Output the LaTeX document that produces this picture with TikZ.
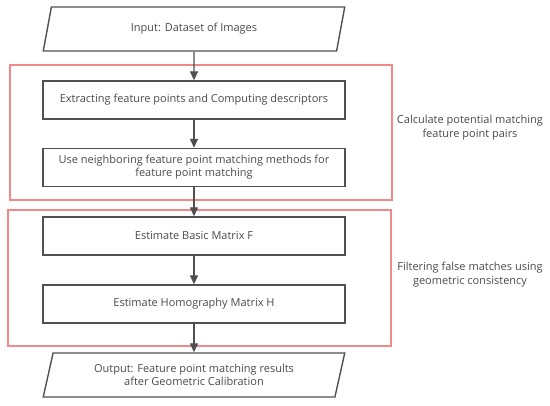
\documentclass[tikz,border=0pt]{standalone}
\usepackage{fontspec}
\setmainfont{Open Sans}
\usetikzlibrary{arrows.meta,shapes.geometric}
\definecolor{boxline}{HTML}{505050}
\definecolor{txtgray}{HTML}{4A4A4A}
\definecolor{groupred}{HTML}{F08A8A}

\begin{document}
\begin{tikzpicture}[x=1pt,y=-1pt,
    font=\fontsize{11}{13}\selectfont, text=txtgray,
    procbox/.style={draw=boxline, line width=1.4pt, minimum width=302pt,
        minimum height=38pt, inner sep=0pt, align=center},
    iobox/.style={trapezium, trapezium left angle=72, trapezium right angle=108,
        trapezium stretches=true, draw=boxline, line width=1.4pt,
        minimum width=302pt, minimum height=44pt, inner sep=0pt, align=center},
    groupbox/.style={draw=groupred, line width=1.4pt},
    flow/.style={-{Triangle[length=9pt,width=8pt]}, line width=1.4pt, draw=boxline},
    sidenote/.style={align=center, font=\fontsize{11}{14}\selectfont}]

        % Canvas
        \useasboundingbox (0,0) rectangle (550,406);

        % Groups
        \draw[groupbox] (10,65) rectangle (392,200);
        \draw[groupbox] (8,210) rectangle (391,346);

        % Steps
        \node[iobox]   (input)   at (194,29)    {Input: Dataset of Images};
        \node[procbox] (extract) at (194,100)   {Extracting feature points and Computing descriptors};
        \node[procbox] (match)   at (194,167.5) {Use neighboring feature point matching methods for\\feature point matching};
        \node[procbox] (fmat)    at (194,236)   {Estimate Basic Matrix F};
        \node[procbox] (hmat)    at (194,304)   {Estimate Homography Matrix H};
        \node[iobox]   (output)  at (194,375)   {Output: Feature point matching results\\after Geometric Calibration};

        % Flow
        \draw[flow] (input) -- (extract);
        \draw[flow] (extract) -- (match);
        \draw[flow] (match) -- (fmat);
        \draw[flow] (fmat) -- (hmat);
        \draw[flow] (hmat) -- (output);

        % Group labels
        \node[sidenote] (calc)   at (470,128) {Calculate potential matching\\feature point pairs};
        \node[sidenote] (filter) at (470,275) {Filtering false matches using\\geometric consistency};

\end{tikzpicture}
\end{document}
